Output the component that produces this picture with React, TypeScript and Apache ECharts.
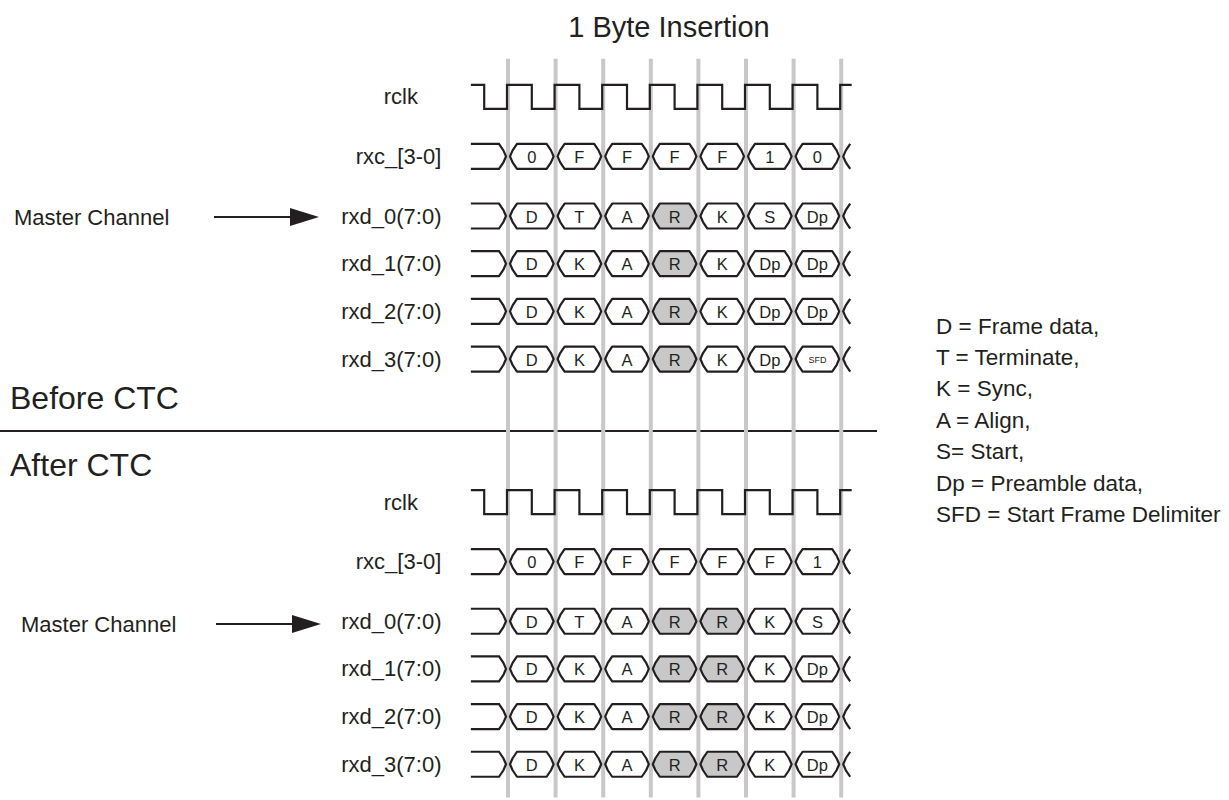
import React, { useEffect, useRef } from "react";
import * as echarts from "echarts";

const titleText = "1 Byte Insertion";
const rowNames = ["rclk", "rxc_[3-0]", "rxd_0(7:0)", "rxd_1(7:0)", "rxd_2(7:0)", "rxd_3(7:0)"];
const beforeLanes = [0, 1.25, 2.5, 3.5, 4.5, 5.5];
const afterLanes = [8.5, 9.75, 11, 12, 13, 14];

const beforeRxc = ["0", "F", "F", "F", "F", "1", "0"];
const beforeRxd0 = ["D", "T", "A", "R", "K", "S", "Dp"];
const beforeRxd1 = ["D", "K", "A", "R", "K", "Dp", "Dp"];
const beforeRxd2 = ["D", "K", "A", "R", "K", "Dp", "Dp"];
const beforeRxd3 = ["D", "K", "A", "R", "K", "Dp", "SFD"];

const afterRxc = ["0", "F", "F", "F", "F", "F", "1"];
const afterRxd0 = ["D", "T", "A", "R", "R", "K", "S"];
const afterRxd1 = ["D", "K", "A", "R", "R", "K", "Dp"];
const afterRxd2 = ["D", "K", "A", "R", "R", "K", "Dp"];
const afterRxd3 = ["D", "K", "A", "R", "R", "K", "Dp"];

const clockEdges = [0, 1, 2, 3, 4, 5, 6, 7];
const clockFalls = [-0.5, 0.5, 1.5, 2.5, 3.5, 4.5, 5.5, 6.5];
const traceStart = -0.78;
const traceEnd = 7.22;

const legendLines = [
  "D = Frame data,",
  "T = Terminate,",
  "K = Sync,",
  "A = Align,",
  "S= Start,",
  "Dp = Preamble data,",
  "SFD = Start Frame Delimiter",
];

// layout (label centre, in cycle units, per row kind)
const labelCentreX = [-2.25, -2.3, -2.45, -2.45, -2.45, -2.45];

const INK = "#231f20";
const GRAY = "#c8c8c8";
const FONT = "Liberation Sans, Arial, Helvetica, sans-serif";

type Cell = { c: number; lane: number; label: string; kind: "cell" | "lead" | "tail" };

function buildCells(): Cell[] {
  const out: Cell[] = [];
  const groups: [number[], string[][]][] = [
    [beforeLanes, [beforeRxc, beforeRxd0, beforeRxd1, beforeRxd2, beforeRxd3]],
    [afterLanes, [afterRxc, afterRxd0, afterRxd1, afterRxd2, afterRxd3]],
  ];
  groups.forEach(([lanes, rows]) => {
    rows.forEach((vals, i) => {
      const lane = lanes[i + 1];
      out.push({ c: traceStart, lane, label: "", kind: "lead" });
      vals.forEach((v, k) => out.push({ c: k, lane, label: v, kind: "cell" }));
      out.push({ c: clockEdges[clockEdges.length - 1], lane, label: "", kind: "tail" });
    });
  });
  return out;
}

export default function App() {
  const ref = useRef<HTMLDivElement>(null);
  useEffect(() => {
    if (!ref.current) return;
    const chart = echarts.init(ref.current, null, { renderer: "svg" });
    const cells = buildCells();
    const clockLanes = [beforeLanes[0], afterLanes[0]];
    const labelRows: { lane: number; name: string; idx: number }[] = [];
    beforeLanes.forEach((l, i) => labelRows.push({ lane: l, name: rowNames[i], idx: i }));
    afterLanes.forEach((l, i) => labelRows.push({ lane: l, name: rowNames[i], idx: i }));

    const H = 12.5;
    const B = 7;
    const rightEnd = (xR: number, top: number, cy: number, bot: number) => [
      [xR - B, top],
      [xR - 2.6, top + 6.5],
      [xR, cy],
      [xR - 2.6, bot - 6.5],
      [xR - B, bot],
    ];
    const leftEnd = (xL: number, top: number, cy: number, bot: number) => [
      [xL + B, bot],
      [xL + 2.6, bot - 6.5],
      [xL, cy],
      [xL + 2.6, top + 6.5],
      [xL + B, top],
    ];

    const option: any = {
      animation: false,
      backgroundColor: "#ffffff",
      grid: { left: 460.4, top: 1.5, width: 428.4, height: 804 },
      xAxis: { type: "value", min: -1, max: 8, show: false },
      yAxis: { type: "value", min: -2, max: 14.75, inverse: true, show: false },
      series: [
        {
          type: "custom",
          clip: false,
          silent: true,
          data: clockEdges.map((c) => [c, -0.8, 14.7]),
          renderItem: (params: any, api: any) => {
            const p1 = api.coord([api.value(0), api.value(1)]);
            const p2 = api.coord([api.value(0), api.value(2)]);
            return {
              type: "line",
              shape: { x1: p1[0], y1: p1[1], x2: p2[0], y2: p2[1] },
              style: { stroke: GRAY, lineWidth: 4 },
            };
          },
        },
        {
          type: "custom",
          clip: false,
          silent: true,
          data: clockLanes.map((l) => [0, l]),
          renderItem: (params: any, api: any) => {
            const lane = api.value(1);
            const cy = api.coord([0, lane])[1];
            const hi = cy - 12;
            const lo = cy + 12;
            const X = (v: number) => api.coord([v, lane])[0];
            const pts: number[][] = [];
            pts.push([X(traceStart), hi]);
            clockEdges.forEach((e, i) => {
              const f = clockFalls[i];
              pts.push([X(f), hi]);
              pts.push([X(f), lo]);
              pts.push([X(e) - 1, lo]);
              pts.push([X(e) - 1, hi]);
            });
            pts.push([X(traceEnd), hi]);
            return {
              type: "polyline",
              shape: { points: pts },
              style: { stroke: INK, lineWidth: 2.2, fill: "none" },
            };
          },
        },
        {
          type: "custom",
          clip: false,
          silent: true,
          data: cells.map((c) => [c.c, c.lane]),
          renderItem: (params: any, api: any) => {
            const cell = cells[params.dataIndex];
            const cy = api.coord([0, cell.lane])[1];
            const top = cy - H;
            const bot = cy + H;
            if (cell.kind === "lead") {
              const x0 = api.coord([cell.c, cell.lane])[0];
              const xR = api.coord([0, cell.lane])[0] - 2;
              return {
                type: "polyline",
                shape: { points: [[x0, top], ...rightEnd(xR, top, cy, bot), [x0, bot]] },
                style: { stroke: INK, lineWidth: 2.2, fill: "none" },
              };
            }
            if (cell.kind === "tail") {
              const xL = api.coord([cell.c, cell.lane])[0] + 2;
              return {
                type: "polyline",
                shape: { points: leftEnd(xL, top, cy, bot) },
                style: { stroke: INK, lineWidth: 2.2, fill: "none" },
              };
            }
            const xL = api.coord([cell.c, cell.lane])[0] + 2;
            const xR = api.coord([cell.c + 1, cell.lane])[0] - 2;
            const shaded = cell.label === "R";
            const small = cell.label.length > 2;
            return {
              type: "group",
              children: [
                {
                  type: "polygon",
                  shape: { points: [...rightEnd(xR, top, cy, bot), ...leftEnd(xL, top, cy, bot)] },
                  style: { stroke: INK, lineWidth: 2.2, fill: shaded ? GRAY : "#ffffff", lineJoin: "round" },
                },
                {
                  type: "text",
                  x: (xL + xR) / 2,
                  y: cy + 0.5,
                  style: {
                    text: cell.label,
                    fill: INK,
                    fontSize: small ? 9 : 16.5,
                    fontFamily: FONT,
                    align: "center",
                    verticalAlign: "middle",
                  },
                },
              ],
            };
          },
        },
        {
          type: "custom",
          clip: false,
          silent: true,
          data: labelRows.map((r) => [labelCentreX[r.idx], r.lane]),
          renderItem: (params: any, api: any) => {
            const r = labelRows[params.dataIndex];
            const p = api.coord([api.value(0), api.value(1)]);
            return {
              type: "text",
              x: p[0],
              y: p[1],
              style: {
                text: r.name,
                fill: INK,
                fontSize: 22,
                fontFamily: FONT,
                align: "center",
                verticalAlign: "middle",
              },
            };
          },
        },
      ],
      graphic: [
        {
          type: "text",
          x: 669,
          y: 27,
          style: { text: titleText, fill: INK, fontSize: 29, fontFamily: FONT, align: "center", verticalAlign: "middle", textAlign: "center", textVerticalAlign: "middle" },
        },
        {
          type: "text",
          x: 10,
          y: 398,
          style: { text: "Before CTC", fill: INK, fontSize: 32, fontFamily: FONT, align: "left", verticalAlign: "middle", textAlign: "left", textVerticalAlign: "middle" },
        },
        {
          type: "text",
          x: 10,
          y: 465,
          style: { text: "After CTC", fill: INK, fontSize: 32, fontFamily: FONT, align: "left", verticalAlign: "middle", textAlign: "left", textVerticalAlign: "middle" },
        },
        {
          type: "line",
          shape: { x1: 0, y1: 431, x2: 877, y2: 431 },
          style: { stroke: INK, lineWidth: 2 },
        },
        {
          type: "text",
          x: 14,
          y: 217,
          style: { text: "Master Channel", fill: INK, fontSize: 22, fontFamily: FONT, align: "left", verticalAlign: "middle", textAlign: "left", textVerticalAlign: "middle" },
        },
        {
          type: "text",
          x: 21,
          y: 624,
          style: { text: "Master Channel", fill: INK, fontSize: 22, fontFamily: FONT, align: "left", verticalAlign: "middle", textAlign: "left", textVerticalAlign: "middle" },
        },
        { type: "line", shape: { x1: 214, y1: 217, x2: 292, y2: 217 }, style: { stroke: INK, lineWidth: 2 } },
        { type: "polygon", shape: { points: [[290, 208], [319, 217], [290, 226]] }, style: { fill: INK } },
        { type: "line", shape: { x1: 216, y1: 624, x2: 294, y2: 624 }, style: { stroke: INK, lineWidth: 2 } },
        { type: "polygon", shape: { points: [[292, 615], [321, 624], [292, 633]] }, style: { fill: INK } },
        ...legendLines.map((t, i) => ({
          type: "text",
          x: 936,
          y: 326 + i * 31.4,
          style: { text: t, fill: INK, fontSize: 22.5, fontFamily: FONT, align: "left", verticalAlign: "middle", textAlign: "left", textVerticalAlign: "middle" },
        })),
      ],
    };
    chart.setOption(option);
    return () => chart.dispose();
  }, []);
  return <div ref={ref} style={{ position: "fixed", left: 0, top: 0, width: 1229, height: 800 }} />;
}
